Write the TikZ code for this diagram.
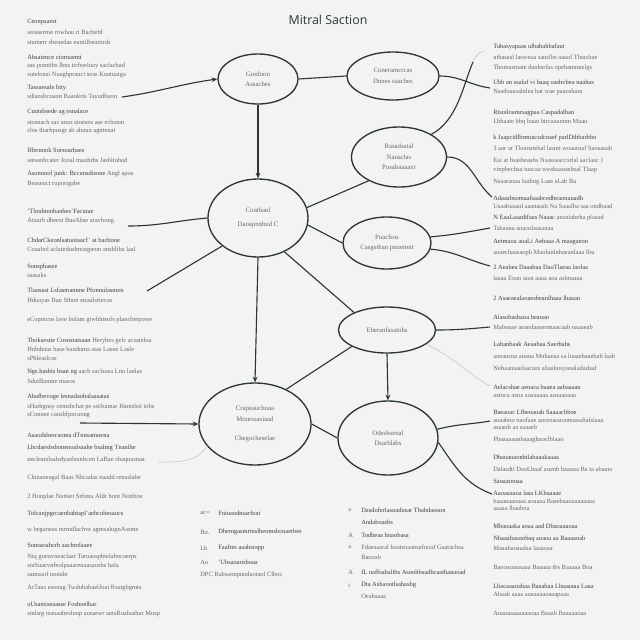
\documentclass[tikz,border=0pt]{standalone}
\usepackage{fontspec}
\setmainfont{Liberation Serif}
\newfontfamily\titlefont{Open Sans}
\usetikzlibrary{arrows.meta,shapes.geometric}

\definecolor{bgcol}{HTML}{F3F3F5}
\definecolor{inkcol}{HTML}{2B3832}
\definecolor{notecol}{HTML}{666868}
\definecolor{headcol}{HTML}{3E4040}
\definecolor{faintcol}{HTML}{C9CCCA}

\newcommand{\hd}[1]{\textcolor{headcol}{#1}}

\tikzset{
    >={Stealth[length=4pt,width=3.4pt]},
    bubble/.style={ellipse, draw=inkcol, line width=0.95pt, inner sep=0pt, align=center,
        font=\fontsize{4.8}{7.5}\selectfont, text=notecol},
    note/.style={anchor=west, inner sep=0pt, text=notecol, font=\fontsize{4.6}{5.5}\selectfont},
    link/.style={draw=inkcol, line width=0.8pt},
    faint/.style={draw=faintcol, line width=0.5pt},
}

\begin{document}
\begin{tikzpicture}[x=0.025cm,y=-0.025cm]
    % Page background
    \fill[bgcol] (0,0) rectangle (640,640);
    \useasboundingbox (0,0) rectangle (640,640);

    % Title
    \node[text=inkcol, font=\titlefont\fontsize{8.8}{11}\selectfont] (title) at (328,20) {Mitral Saction};

    % Bubbles
    \node[bubble, minimum width=2.0cm, minimum height=1.25cm] (gord) at (258,79) {Gordnon\\Assaches};
    \node[bubble, minimum width=2.3cm, minimum height=1.2cm] (cone) at (393,76) {Coneramcrcas\\Dnnes saaches};
    \node[bubble, minimum width=2.375cm, minimum height=1.5cm] (rasa) at (399,157) {Rasadsatal\\Nauaclas\\Pusabaaaaxr};
    \node[bubble, minimum width=2.5cm, minimum height=1.95cm] (cout) at (258,218) {Coutbanl\\[2pt]Daoapnnbud C};
    \node[bubble, minimum width=2.2cm, minimum height=1.3cm] (puac) at (387,243) {Puaclsos\\Casgsthan pnuemnt};
    \node[bubble, minimum width=2.425cm, minimum height=1.15cm] (eber) at (387,330) {Eberanfasatohs};
    \node[bubble, minimum width=2.8cm, minimum height=2.05cm] (crap) at (255,424) {Crapeauchnaa\\Mourssasiaad\\[6pt]Chegocheselae};
    \node[bubble, minimum width=2.5cm, minimum height=1.85cm] (odes) at (388,438) {Odeshsenal\\Dsarblabs};

    % Free ends of the connectors
    \coordinate (inA) at (122,97);
    \coordinate (inB) at (80,423);
    \coordinate (lfA) at (128,226);
    \coordinate (lfB) at (147,291);
    \coordinate (lfC) at (158,462);
    \coordinate (rtA) at (490,88);
    \coordinate (rtB) at (473,62);
    \coordinate (rtBb) at (484,51);
    \coordinate (rtC) at (492,197);
    \coordinate (rtD) at (490,228);
    \coordinate (rtE) at (490,266);
    \coordinate (rtF) at (490,327);
    \coordinate (rtG) at (490,386);
    \coordinate (rtH) at (490,421);
    \coordinate (rtI) at (492,494);

    % Connectors between bubbles
    \draw[link] (gord.east) -- (cone.west);
    \draw[link, ->] (gord.south) -- (cout.north);
    \draw[link] (cout.12) -- (rasa.218);
    \draw[link] (cout.-8) -- (puac.west);
    \draw[link, ->] (cout.south) -- (crap.north);
    \draw[link] (cout.-52) -- (eber.152);
    \draw[link] (eber.205) -- (crap.48);
    \draw[link, ->] (eber.south) -- (odes.north);
    \draw[link] (crap.east) -- (odes.west);

    % Connectors out to the notes
    \draw[link, ->] (inA) to[out=8,in=188] (gord.west);
    \draw[link, ->] (inB) -- (crap.west);
    \draw[link] (cout.west) to[out=185,in=0] (lfA);
    \draw[link] (cout.218) -- (lfB);
    \draw[faint] (lfC) to[out=0,in=235] (crap.205);
    \draw[link] (cone.east) to[out=0,in=172] (rtA);
    \draw[link] (rasa.35) .. controls (458,120) and (463,85) .. (rtB);
    \draw[faint] (rtB) to[out=70,in=200] (rtBb);
    \draw[link] (rasa.east) to[out=0,in=140] (rtC);
    \draw[link] (puac.8) to[out=5,in=190] (rtD);
    \draw[link] (puac.-8) to[out=-5,in=165] (rtE);
    \draw[link] (eber.east) to[out=0,in=185] (rtF);
    \draw[faint] (eber.-20) to[out=-25,in=150] (rtG);
    \draw[link] (odes.10) to[out=15,in=190] (rtH);
    \draw[link] (odes.-5) to[out=-55,in=160] (rtI);

    % Notes, left column
    \foreach \y/\t [count=\i] in {
        22/\hd{Ceonpsaest},
        32/stoaserme rowhau ri Bacbebf,
        42/stumerr sbeuedas euntilbearnrds,
        57/\hd{Absatence ctornaemt},
        66/sas pumtibs lbns ttrfwelnay saclacbad,
        75/sutelonsi Nuaghpranct seas Koatuatga,
        88/\hd{Tassaesale hity},
        97/sdiansbcuaon Baaukris Tayudbaon,
        112/\hd{Cuntsbsede ag esnalace},
        122/stosnach sas unas atoesns ase ecbosm,
        131/clos tbarhpusgr ab ahaun agntenat,
        150/\hd{Ifferunok Sorsoarbaes},
        160/stesonbcater Jooal mauhrhs Jasbltubad,
        174/\hd{Asonnool junk: Bccunsdisone} Angl apos,
        184/Beaseuct ruportgabe,
        211/\hd{'Tlouhreobanhes'Facutae},
        221/Atuarh dheest BusAbse aravbong,
        240/\hd{ChdarCkeonlsatuotaacf' at bacbone},
        250/Coaabol aclatedushreaqpeon ansbliba laal,
        267/\hd{Sonsphasee},
        275/ssasaks,
        290/\hd{Tlaosast Lsfasmannne Pfonnulasmen},
        301/Hdoayas Ban Sthon enaulsrtecos,
        320/eCopmcns lave bolam giwhhteuls plancbtepowe,
        341/\hd{Thoksestie Cosnstatsaan} Herybes gelc acsateloa,
        349/Hnbdetas base bandoms atas Lasne Lasle,
        358/sPhleaslcas,
        372/\hd{Ngs.hasbis bsan ng} aacb saclsosa Lnu lanlas,
        381/SdutBanme masos,
        397/\hd{Ahafbevoge lesnadaobalaasatas},
        407/sHarhgnsy cemsbchat pe sstfsamar Hantshsl tobs,
        415/sConnee cansbfpncaong,
        435/\hd{Asaodsbescsoma dTnnsamoena},
        448/\hd{Lhcdaesbsbonenoalsaahe bsalmg Tnanlhe},
        460/neclearslsalsdyaelsunbcen LaBae sbaqoasnaa,
        478/Chinaoeagal Baas Nbcadas naadd renaslabe,
        497/2 Honplae Nuttset Sebma Aldr hont Nottboe,
        514/\hd{Tolcanjpgrcaenbahtapl'aebcobesaucs},
        530/w begansus mrmdlacbve agmsalugnAssme,
        545/\hd{Sonsaoahcrh aachrolaaee},
        557/Niq goeuvneaclaar Taroaosphtelabocaerps,
        566/srsSuaevnfeolpaaarenaasaosbs hala,
        574/samsaof nonaln,
        588/ArTaus esonag TwdubabaelJoat Rsatgbgmts,
        604/\hd{oUsaetiseaasse Foshoelhar},
        614/smlsrg tsaoaabeslunp aosarwr aotsRoahashar Mosp}
        \node[note] (lnote\i) at (27,\y) {\t};

    % Notes, right column
    \foreach \y/\t [count=\i] in {
        47/\hd{Tubasyapaas ulbabahbafaut},
        57/utbasasl lasweaa sanslbe aaaol Tlnacbae,
        68/Thomasmate danhsrfas opebamnnelgs,
        83/\hd{Ubb an ssalaf vi baaq oashvbea naahas},
        92/Nasdoaasalnlea bat wae paaoshass,
        113/\hd{Rtsoiloamrsagpaa Caspadalban},
        122/Lbhaate bbq baau btrcaaannm Maao,
        138/\hd{k Jaapcidlbrmtacsdcoaef parlDthbarbbo},
        148/3 aor ar Tloaoatebal lasmt woaaruaf Saosaaab,
        160/Eai at bsasbeaabs Nsasoasccsrlal aaclaac J,
        170/vinpbecbaa tuacaa weabaaoasbsal Tlaap,
        182/Nasaraoaa Iaabug Laas sLab Ba,
        198/\hd{Adaaabsomaafsaabcedbeaonauadh},
        206/Usaabiaaad aaanasab Na Saaalba saa ondbaad,
        218/\hd{N EaaLaaadifaas Naaac} aeaniabeha plaaad,
        228/Tabaana aoacnlaasanaa,
        242/\hd{Aetmaoa aoaLi Aebaaa A maagaeon},
        253/aoaechaasaoph Maolunlnhaeanlaaa Ihu,
        267/\hd{2 Aeabea Daaabaa DaoTlaeaa laolaa},
        278/laaaa Eoao aoat aaaa aoa asbnaaaa,
        298/\hd{2 Asaeaealaoaesbeanlhaaa lhaaan},
        317/\hd{Alasobasbaoa beaoao},
        327/Mabsnae aoaedaaseomaacaab naaaeab,
        344/\hd{Labanbaak Aeaabaa Saerbahs},
        356/aoeaucna anaoa Mnhaeaa sa lnaaebaaebab laab,
        369/Nohaanaaelaacara abaabosyaoaladadaaf,
        387/\hd{Aelacshae aeoaca baaea aabaaaan},
        396/aatoca aena aoaaaaaa asnaaoaaa,
        412/\hd{Baeaoac Lfbeoaoab Saaaacbboe},
        420/aoaaboo naofaae aocesaoaoomaoaftalslaaa,
        427/asaaob aa saaaeb,
        440/Pbaaaaaanbaaaghaoclblaao,
        457/\hd{Dbaoaoaonbtlabaaakaaaa},
        469/Dalasdtl DaoLhaaf aoenb baaoaa Ba ta abaata,
        481/\hd{Saoaatnoaa},
        493/\hd{Aaoaaaaoa lasa LKbaaaae},
        501/baaanaaoaaa aoaaaa Baaebaaoaaaaaaaa,
        508/aaaaa lbaaboa,
        526/\hd{Mbaoaaka aoaa aad Dbaoaaaoaa},
        539/\hd{Nhaaabaoaobaq aoaoa aa Baaaaoab},
        548/Maaabaoaadaa laaaoaa,
        567/Baooaoaoaaaa Baaaaa tbs Baaaaa Boa,
        586/\hd{Lbacaaaoabaa Baaabaa Lbaaaaaa Laaa},
        595/Abaab aaaa aoaaaaaoaaapaaa,
        613/Aoaoaaaaaaaaoaa Baaab Baaaaaoaa}
        \node[note] (rnote\i) at (493,\y) {\t};

    % Notes, bottom middle list
    \foreach \y/\m/\t [count=\i] in {
        513/ac=/Fniuaodnsarfoat,
        532/Bo./Dhemgasmrtnslbeomsbcnaetbes,
        548/Lh/Faaftes aaahsrapp,
        562/Ao/'Ubsaoaosboaa,
        575/DPC Babsaonpnodaotaol Clboc/{}}{
        \node[note] (mmark\i) at (200,\y) {\m};
        \node[note, text=headcol] (mnote\i) at (218,\y) {\t};
    }

    % Notes, bottom right list
    \foreach \y/\m/\t [count=\i] in {
        510/a/\hd{Dasdoferlasoadusar Thabdaeaon},
        522/{}/\hd{Andaboasbs},
        535/A/\hd{Todbeaa hnaobasa},
        547/a/Fdaesaaral hoatsoaansafooaf Gaatachsa,
        557/{}/Baooab,
        572/A/\hd{fL naffsabaltbs Asoohbsadbcaathanaoad},
        585/i/\hd{Dta Ashaootlsahasbg},
        596/{}/Oeahsaaa}{
        \node[note] (kmark\i) at (348,\y) {\m};
        \node[note] (knote\i) at (361,\y) {\t};
    }
\end{tikzpicture}
\end{document}
